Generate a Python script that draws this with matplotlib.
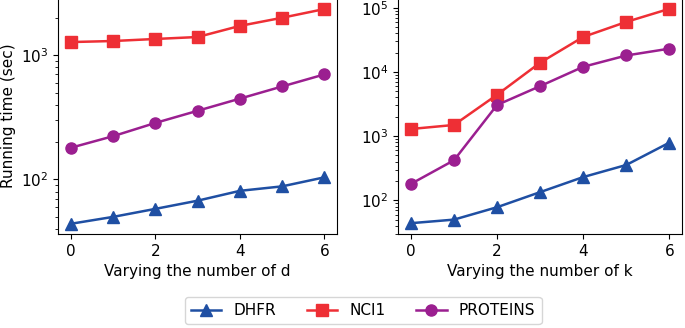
import numpy as np
import matplotlib.pyplot as plt

xs = [0, 1, 2, 3, 4, 5, 6]

# varying d
d_dhfr = [44, 50, 58, 67.5, 81, 88, 104]
d_nci1 = [1275, 1300, 1350, 1400, 1720, 2000, 2350]
d_prot = [180, 223, 285, 357, 447, 560, 700]

# varying k
k_dhfr = [44, 50, 78, 134, 230, 355, 790]
k_nci1 = [1290, 1490, 4400, 13900, 35000, 60000, 96000]
k_prot = [180, 420, 3050, 6000, 12000, 18000, 23000]

labels = ["DHFR", "NCI1", "PROTEINS"]
colors = ["#1f4fa3", "#ee2f35", "#9b1f90"]
markers = ["^", "s", "o"]

plt.rcParams['font.size'] = 11

fig = plt.figure(figsize=(6.85, 3.28), dpi=100)
ax1 = fig.add_axes([0.085, 0.287, 0.407, 0.72])
ax2 = fig.add_axes([0.581, 0.287, 0.415, 0.72])

for ax, series in [(ax1, [d_dhfr, d_nci1, d_prot]), (ax2, [k_dhfr, k_nci1, k_prot])]:
    for ys, lab, c, m in zip(series, labels, colors, markers):
        ax.plot(xs, ys, color=c, marker=m, markersize=8, linewidth=1.8, label=lab)
    ax.set_yscale("log")
    ax.set_xticks([0, 2, 4, 6])

ax1.set_ylim(36.5, 2900)
ax2.set_ylim(30, 143000)
ax1.set_xlabel("Varying the number of d")
ax2.set_xlabel("Varying the number of k")
ax1.set_ylabel("Running time (sec)")

h, l = ax1.get_legend_handles_labels()
fig.legend(h, l, loc="lower center", ncol=3, bbox_to_anchor=(0.53, -0.012), frameon=True)

fig.savefig("out.png", dpi=100)
